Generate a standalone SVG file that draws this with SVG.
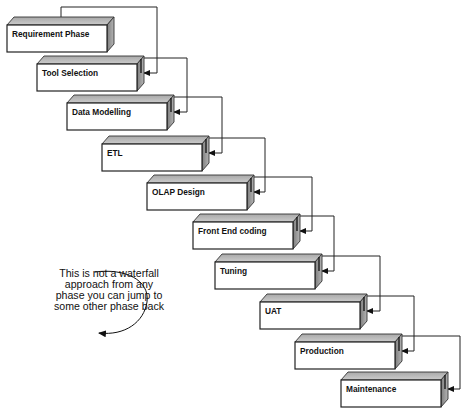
<svg xmlns="http://www.w3.org/2000/svg" width="474" height="420" viewBox="0 0 474 420">
<style>
.front{fill:#fff;stroke:#222;stroke-width:1.2}
.top{fill:url(#gTop);stroke:#333;stroke-width:0.9}
.side{fill:url(#gSide);stroke:#333;stroke-width:0.9}
.inner{fill:none;stroke:#111;stroke-width:1.3}
.lbl{font-family:"Liberation Sans",Arial,sans-serif;font-weight:bold;font-size:8.3px;fill:#111}
.conn{fill:none;stroke:#222;stroke-width:1;marker-end:url(#arr)}
.note{font-family:"Liberation Sans",Arial,sans-serif;font-size:10.6px;fill:#111;text-anchor:middle}
</style>
<defs>
<linearGradient id="gTop" x1="0" y1="0" x2="0" y2="1">
<stop offset="0" stop-color="#a8a8a8"/><stop offset="1" stop-color="#cccccc"/>
</linearGradient>
<linearGradient id="gSide" x1="0" y1="0" x2="1" y2="0">
<stop offset="0" stop-color="#7e7e7e"/><stop offset="1" stop-color="#b4b4b4"/>
</linearGradient>
<marker id="arr" markerUnits="userSpaceOnUse" markerWidth="7" markerHeight="6" refX="7" refY="3" orient="auto">
<path d="M0,0 L7,3 L0,6 z" fill="#111"/>
</marker>
<marker id="arr2" markerUnits="userSpaceOnUse" markerWidth="8" markerHeight="7" refX="7" refY="3.5" orient="auto">
<path d="M0,0 L8,3.5 L0,7 z" fill="#111"/>
</marker>
</defs>

<g id="connectors">
<path class="conn" d="M61 17 V7 H157 V73 H143"/>
<path class="conn" d="M144 58 H187 V112 H173"/>
<path class="conn" d="M174 97 H222 V153 H208"/>
<path class="conn" d="M209 138 H265 V192 H253"/>
<path class="conn" d="M254 177 H312 V231 H299"/>
<path class="conn" d="M300 216 H334 V271 H321"/>
<path class="conn" d="M322 256 H380 V311 H366"/>
<path class="conn" d="M367 296 H414 V351 H401"/>
<path class="conn" d="M402 336 H460 V389 H447"/>
</g>

<g id="n1"><polygon class="top" points="7,25 14,17 114,17 107,25"/><polygon class="side" points="107,25 114,17 114,44 107,52"/><rect class="front" x="7" y="25" width="100" height="27"/><text class="lbl" x="12" y="37">Requirement Phase</text></g>
<g id="n2"><polygon class="top" points="37,64 44,56 144,56 137,64"/><polygon class="side" points="137,64 144,56 144,83 137,91"/><rect class="front" x="37" y="64" width="100" height="27"/><path class="inner" d="M141 59 V73"/><text class="lbl" x="42" y="76">Tool Selection</text></g>
<g id="n3"><polygon class="top" points="67,103 74,95 174,95 167,103"/><polygon class="side" points="167,103 174,95 174,122 167,130"/><rect class="front" x="67" y="103" width="100" height="27"/><path class="inner" d="M171 98 V112"/><text class="lbl" x="72" y="115">Data Modelling</text></g>
<g id="n4"><polygon class="top" points="102,144 109,136 209,136 202,144"/><polygon class="side" points="202,144 209,136 209,163 202,171"/><rect class="front" x="102" y="144" width="100" height="27"/><path class="inner" d="M206 139 V153"/><text class="lbl" x="107" y="156">ETL</text></g>
<g id="n5"><polygon class="top" points="147,183 154,175 254,175 247,183"/><polygon class="side" points="247,183 254,175 254,202 247,210"/><rect class="front" x="147" y="183" width="100" height="27"/><path class="inner" d="M251 178 V192"/><text class="lbl" x="152" y="195">OLAP Design</text></g>
<g id="n6"><polygon class="top" points="193,222 200,214 300,214 293,222"/><polygon class="side" points="293,222 300,214 300,241 293,249"/><rect class="front" x="193" y="222" width="100" height="27"/><path class="inner" d="M297 217 V231"/><text class="lbl" x="198" y="234">Front End coding</text></g>
<g id="n7"><polygon class="top" points="215,262 222,254 322,254 315,262"/><polygon class="side" points="315,262 322,254 322,281 315,289"/><rect class="front" x="215" y="262" width="100" height="27"/><path class="inner" d="M319 257 V271"/><text class="lbl" x="220" y="274">Tuning</text></g>
<g id="n8"><polygon class="top" points="260,302 267,294 367,294 360,302"/><polygon class="side" points="360,302 367,294 367,321 360,329"/><rect class="front" x="260" y="302" width="100" height="27"/><path class="inner" d="M364 297 V311"/><text class="lbl" x="265" y="314">UAT</text></g>
<g id="n9"><polygon class="top" points="295,342 302,334 402,334 395,342"/><polygon class="side" points="395,342 402,334 402,361 395,369"/><rect class="front" x="295" y="342" width="100" height="27"/><path class="inner" d="M399 337 V351"/><text class="lbl" x="300" y="354">Production</text></g>
<g id="n10"><polygon class="top" points="341,380 348,372 448,372 441,380"/><polygon class="side" points="441,380 448,372 448,399 441,407"/><rect class="front" x="341" y="380" width="100" height="27"/><path class="inner" d="M445 375 V389"/><text class="lbl" x="346" y="392">Maintenance</text></g>

<g id="note">
<text class="note" x="109" y="277">This is not a waterfall</text>
<text class="note" x="109" y="288">approach from any</text>
<text class="note" x="109" y="299">phase you can jump to</text>
<text class="note" x="109" y="310">some other phase back</text>
<path d="M95 272 C125 268 150 280 147 302 C144 322 125 336 99 333" fill="none" stroke="#111" stroke-width="1" marker-end="url(#arr2)"/>
</g>
</svg>
